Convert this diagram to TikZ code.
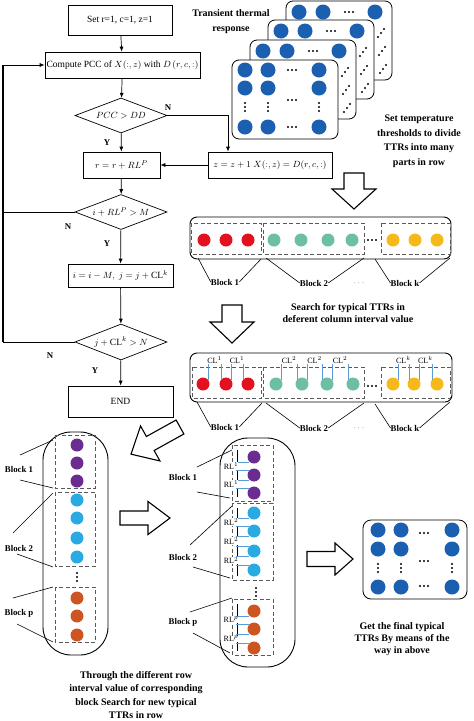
\documentclass[tikz,border=0pt]{standalone}
\usepackage{fontspec}
\setmainfont{Liberation Serif}
\usetikzlibrary{shapes.geometric,arrows.meta,calc}
\definecolor{cardblue}{HTML}{1B5FB0}
\definecolor{cred}{HTML}{E3101F}
\definecolor{cteal}{HTML}{6DBFA3}
\definecolor{cyell}{HTML}{F5B91A}
\definecolor{cpurp}{HTML}{6B2C91}
\definecolor{ccyan}{HTML}{2AAAE2}
\definecolor{corng}{HTML}{CC5522}
\definecolor{clblue}{HTML}{5B9BD5}
\newcommand\tdotsH[2]{\fill (#1-4,#2) circle (1.1pt); \fill (#1,#2) circle (1.1pt); \fill (#1+4,#2) circle (1.1pt);}
\newcommand\tdotsV[2]{\fill (#1,#2-4) circle (1.1pt); \fill (#1,#2) circle (1.1pt); \fill (#1,#2+4) circle (1.1pt);}
\newcommand\tdotsD[2]{\fill (#1-3,#2+4) circle (1.1pt); \fill (#1,#2) circle (1.1pt); \fill (#1+3,#2-4) circle (1.1pt);}
\newcommand\hollowarrow[7]{%
 \begin{scope}[shift={(#1,#2)}, rotate=#3]
 \draw[hollow] (0,#5/2) -- (#4-#7,#5/2) -- (#4-#7,#6/2) -- (#4,0) -- (#4-#7,-#6/2) -- (#4-#7,-#5/2) -- (0,-#5/2) -- cycle;
 \end{scope}}
\newcommand\backcard[2]{%
 \draw[line width=0.8pt, fill=white, rounded corners=7pt] (#1,#2) rectangle ++(106,79);
 \foreach \cx in {13,37,89} {\fill[cardblue] (#1+\cx,#2+11) circle (7.5pt);}
 \tdotsH{#1+63}{#2+11}
 \tdotsD{#1+95}{#2+32}
 \tdotsD{#1+96}{#2+50}
 \tdotsD{#1+97}{#2+68}
}
\begin{document}
\begin{tikzpicture}[x=1pt,y=-1pt, font=\fontsize{9.5}{11}\selectfont,
  box/.style={draw, line width=0.7pt, rectangle, inner sep=1pt},
  dia/.style={draw, line width=0.7pt, diamond, shape aspect=2.6, inner sep=0pt, minimum width=92pt, minimum height=35pt},
  arr/.style={-{Latex[length=5pt,width=4pt]}, line width=0.7pt},
  lab/.style={font=\fontsize{8.8}{10}\selectfont\bfseries, inner sep=0pt},
  cap/.style={font=\fontsize{10}{#1}\selectfont\bfseries, align=center, inner sep=0pt},
  dbox/.style={draw=black!65, dash pattern=on 4pt off 2.5pt, line width=0.7pt},
  hollow/.style={draw, fill=white, line width=1.1pt, line join=miter},
  outer/.style={draw, line width=0.9pt},
  small/.style={font=\fontsize{8}{9}\selectfont, inner sep=0pt},
  ]
\useasboundingbox (0,0) rectangle (474,721);

% ---------------- flowchart ----------------
\node[box, minimum width=104pt, minimum height=30pt] (b1) at (120,20) {Set r=1, c=1, z=1};
\node[box, minimum width=155pt, minimum height=26pt] (b2) at (122.5,65) {Compute PCC of $X(:,z)$ with $D\,(r,c,:)$};
\node[dia] (d1) at (121,115.5) {$PCC > DD$};
\node[box, minimum width=77pt, minimum height=26pt] (b3) at (121.5,165) {$r = r + RL^P$};
\node[box, minimum width=124pt, minimum height=26pt] (b4) at (270,165) {$z = z + 1\ X(:,z) = D(r,c,:)$};
\node[dia] (d2) at (121,212) {$i + RL^P > M$};
\node[box, minimum width=105pt, minimum height=23pt] (b5) at (120.5,275.5) {$i = i - M,\ j = j + \mathrm{CL}^k$};
\node[dia, minimum height=36pt] (d3) at (121,342) {$j + \mathrm{CL}^k > N$};
\node[box, minimum width=105pt, minimum height=31pt] (b6) at (120.5,401.5) {END};

\draw[arr] (b1) -- (b2);
\draw[arr] (b2) -- (d1);
\draw[arr] (d1) -- (b3);
\draw[arr] (b3) -- (d2);
\draw[arr] (d2) -- (b5);
\draw[arr] (b5) -- (d3);
\draw[arr] (d3) -- (b6);
\coordinate (nturn) at (228,115.5);
\draw[arr] (d1.east) -- (nturn) -- (nturn |- b4.north);
\draw[arr] (b4) -- (b3);
\coordinate (loopT) at (3,65);
\coordinate (loopM) at (3,212);
\coordinate (loopB) at (3,342);
\draw[line width=0.7pt] (d2.west) -- (loopM);
\draw[line width=0.7pt] (d3.west) -- (loopB);
\draw[line width=1.4pt] (loopB) -- (loopT);
\draw[arr] (loopT) -- (b2.west);

\node[lab] (n1) at (168,108) {N};
\node[lab] (y1) at (107,143) {Y};
\node[lab] (n2) at (68,227) {N};
\node[lab] (y2) at (107,244) {Y};
\node[lab] (n3) at (50,356) {N};
\node[lab] (y3) at (95,371) {Y};

% ---------------- stacked cards ----------------
\node[cap=15] (ttr) at (231,22) {Transient thermal\\response};
\backcard{286}{1}
\backcard{268}{20}
\backcard{250}{40}
\draw[line width=0.8pt, fill=white, rounded corners=7pt] (232,60) rectangle ++(106,79);
\foreach \cx in {245,268,319} {
  \foreach \cy in {70,88,127} {\fill[cardblue] (\cx,\cy) circle (7.5pt);}
  \tdotsV{\cx}{107}
}
\tdotsH{292}{70}
\tdotsH{292}{100}
\tdotsH{292}{127}

\node[cap=14.5] (settxt) at (419,141) {Set temperature\\thresholds to divide\\TTRs into many\\parts in row};

\hollowarrow{354}{173}{-90}{36}{20}{44}{20}

% ---------------- panel 1 ----------------
\draw[outer, rounded corners=7pt] (190,217) rectangle (451,259);
\draw[dbox] (191,223) rectangle (261,254);
\draw[dbox] (263,223) rectangle (364,254);
\draw[dbox] (381,223) rectangle (450,254);
\foreach \cx in {204,226,248} {\fill[cred] (\cx,240) circle (6.5pt);}
\foreach \cx in {274,301,328,352} {\fill[cteal] (\cx,240) circle (6.5pt);}
\foreach \cx in {393,415,437} {\fill[cyell] (\cx,240) circle (6.5pt);}
\tdotsH{372}{240}

\node[lab] (p1b1) at (225,282) {Block 1};
\node[lab] (p1b2) at (314,283) {Block 2};
\node[lab] (p1bk) at (405,283) {Block k};
\node[lab, text=black!55] (p1dd) at (359,283) {$\cdots$};
\draw[line width=0.6pt] (p1b1.west) -- (198,258);
\draw[line width=0.6pt] (p1b1.east) -- (261,259);
\draw[line width=0.6pt] (p1b2.west) -- (266,258);
\draw[line width=0.6pt] (p1b2.east) -- (364,258);
\draw[line width=0.6pt] (p1bk.west) -- (375,259);
\draw[line width=0.6pt] (p1bk.east) -- (450,258);

\node[cap=12.5] (srch) at (348,313) {Search for typical TTRs in\\deferent column interval value};

\hollowarrow{232}{305}{-90}{38}{20}{44}{21}

% ---------------- panel 2 ----------------
\draw[outer, rounded corners=7pt] (190,353) rectangle (452,402);
\draw[dbox] (192,367) rectangle (261,398);
\draw[dbox] (263,367) rectangle (364,398);
\draw[dbox] (381,367) rectangle (450,398);
\foreach \cx in {203,226,248} {\fill[cred] (\cx,384) circle (6.5pt);}
\foreach \cx in {276,302,327,353} {\fill[cteal] (\cx,384) circle (6.5pt);}
\foreach \cx in {393,414,437} {\fill[cyell] (\cx,384) circle (6.5pt);}
\tdotsH{372}{386}
\foreach \a/\b/\s in {203/226/1, 226/248/1, 276/302/2, 302/327/2, 327/353/2, 393/414/k, 414/437/k}{
  \draw[clblue, line width=0.7pt] (\a+5,364) -- (\a+5,380);
  \draw[clblue, line width=0.7pt] (\b-5,364) -- (\b-5,380);
  \node[small] (cl-\a) at ({(\a+\b)/2},360) {CL$^{\s}$};
}

\node[lab] (p2b1) at (225,427) {Block 1};
\node[lab] (p2b2) at (314,428) {Block 2};
\node[lab] (p2bk) at (405,428) {Block k};
\node[lab, text=black!55] (p2dd) at (359,428) {$\cdots$};
\draw[line width=0.6pt] (p2b1.west) -- (197,402);
\draw[line width=0.6pt] (p2b1.east) -- (262,403);
\draw[line width=0.6pt] (p2b2.west) -- (266,403);
\draw[line width=0.6pt] (p2b2.east) -- (364,403);
\draw[line width=0.6pt] (p2bk.west) -- (375,404);
\draw[line width=0.6pt] (p2bk.east) -- (450,402);

\hollowarrow{180}{427}{209}{56}{16}{40}{22}

% ---------------- panel 3 ----------------
\draw[outer, rounded corners=28pt] (43,432) rectangle (108,655);
\draw[dbox] (55,435) rectangle (95,488);
\draw[dbox] (55,492) rectangle (95,566);
\draw[dbox] (55,587) rectangle (95,642);
\foreach \cy in {445,463,481} {\fill[cpurp] (77,\cy) circle (6.5pt);}
\foreach \cy in {500,518,538,557} {\fill[ccyan] (77,\cy) circle (6.5pt);}
\foreach \cy in {598,616,635} {\fill[corng] (77,\cy) circle (6.5pt);}
\tdotsV{77}{577}
\node[lab] (p3b1) at (19,469) {Block 1};
\node[lab] (p3b2) at (19,548) {Block 2};
\node[lab] (p3bp) at (19,613) {Block p};
\draw[line width=0.6pt] (20,455) -- (53,440);
\draw[line width=0.6pt] (20,480) -- (53,488);
\draw[line width=0.6pt] (13,533) -- (53,493);
\draw[line width=0.6pt] (17,554) -- (53,567);
\draw[line width=0.6pt] (13,598) -- (53,587);
\draw[line width=0.6pt] (17,624) -- (53,642);

\node[cap=13.6] (thr) at (136,695) {Through the different row\\interval value of corresponding\\block Search for new typical\\TTRs in row};

\hollowarrow{120}{518}{0}{50}{14}{33}{22}

% ---------------- panel 4 ----------------
\draw[outer, rounded corners=28pt] (220,438) rectangle (295,667);
\draw[dbox] (232,445) rectangle (273,501);
\draw[dbox] (232,503) rectangle (273,580);
\draw[dbox] (232,599) rectangle (273,655);
\foreach \cy in {457,475,493} {\fill[cpurp] (254,\cy) circle (6.5pt);}
\foreach \cy in {513,531,551,570} {\fill[ccyan] (254,\cy) circle (6.5pt);}
\foreach \cy in {611,629,648} {\fill[corng] (254,\cy) circle (6.5pt);}
\tdotsV{256}{592}
\draw[line width=0.5pt] (237,450) -- (237,497);
\draw[line width=0.5pt] (237,508) -- (237,576);
\draw[line width=0.5pt] (237,604) -- (237,651);
\foreach \a/\b/\s in {457/475/1, 475/493/1, 513/531/2, 531/551/2, 551/570/2, 611/629/p, 629/648/p}{
  \draw[clblue, line width=0.7pt] (236,\a+5) -- (249,\a+5);
  \draw[clblue, line width=0.7pt] (236,\b-5) -- (249,\b-5);
  \node[small, fill=white, inner sep=0.3pt] (rl-\a) at (231,{(\a+\b)/2}) {RL$^{\s}$};
}
\node[lab] (p4b1) at (183,477) {Block 1};
\node[lab] (p4b2) at (183,557) {Block 2};
\node[lab] (p4bp) at (183,622) {Block p};
\draw[line width=0.6pt] (197,467) -- (232,450);
\draw[line width=0.6pt] (197,492) -- (230,498);
\draw[line width=0.6pt] (190,545) -- (232,506);
\draw[line width=0.6pt] (193,567) -- (230,578);
\draw[line width=0.6pt] (190,612) -- (232,598);
\draw[line width=0.6pt] (193,633) -- (230,653);

\hollowarrow{307}{559}{0}{46}{15}{32}{18}

% ---------------- panel 5 ----------------
\draw[line width=0.8pt, rounded corners=8pt] (363,520) rectangle (467,599);
\foreach \cx in {378,401,452} {
  \foreach \cy in {530,549,587} {\fill[cardblue] (\cx,\cy) circle (7.5pt);}
  \tdotsV{\cx}{568}
}
\tdotsH{424}{533}
\tdotsH{424}{561}
\tdotsH{424}{586}
\node[cap=12.3] (final) at (402,639) {Get the final typical\\TTRs By means of the\\way in above};
\end{tikzpicture}
\end{document}
